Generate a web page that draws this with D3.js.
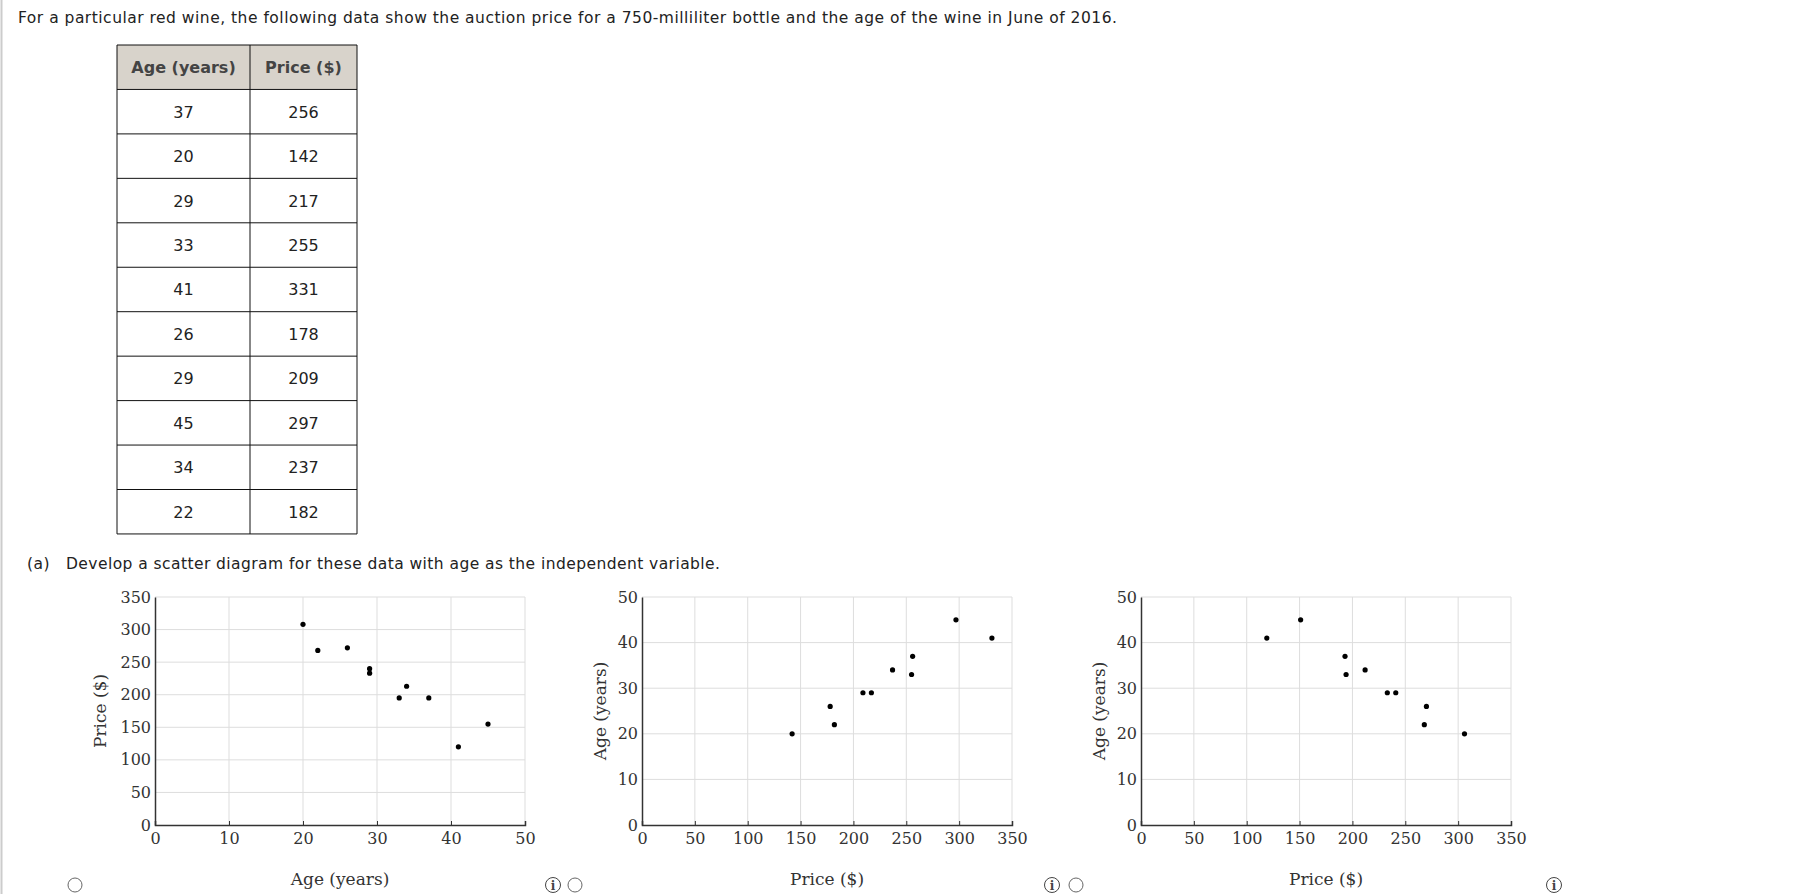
<!DOCTYPE html>
<html><head><meta charset="utf-8">
<script src="https://cdn.jsdelivr.net/npm/d3@7"></script>
<style>body{margin:0;background:#fff;}svg{display:block}</style></head>
<body><svg id="c" width="1801" height="894"></svg>
<script>
const tableAge = [37,20,29,33,41,26,29,45,34,22];
const tablePrice = [256,142,217,255,331,178,209,297,237,182];
const optA_age = [20,22,26,29,29,33,34,37,41,45];
const optA_price = [308,268,272,240,233,195,213,195,120,155];
const optB_price = [142,178,182,209,217,237,255,256,297,331];
const optB_age = [20,26,22,29,29,34,33,37,45,41];
const optC_price = [119,151,193,194,212,233,241,270,268,306];
const optC_age = [41,45,37,33,34,29,29,26,22,20];
const ageTicks = [0,10,20,30,40,50];
const priceTicks = [0,50,100,150,200,250,300,350];

const svg = d3.select("#c");
svg.append("line").attr("x1",1.5).attr("x2",1.5).attr("y1",0).attr("y2",894).attr("stroke","#ccc").attr("stroke-width",2);
const sans = "'DejaVu Sans', sans-serif";
svg.append("text").attr("x",18).attr("y",23).attr("font-family",sans).attr("font-size",15.5).attr("fill","#222")
  .attr("textLength",1099).attr("lengthAdjust","spacing")
  .text("For a particular red wine, the following data show the auction price for a 750-milliliter bottle and the age of the wine in June of 2016.");

// table
const tx=[117,250,357], rowY=d3.range(12).map(i=>45+i*44.45);
const tg=svg.append("g");
tg.append("rect").attr("x",tx[0]).attr("y",rowY[0]).attr("width",tx[2]-tx[0]).attr("height",rowY[1]-rowY[0]).attr("fill","#d8d3cb");
["Age (years)","Price ($)"].forEach((t,i)=>tg.append("text").attr("x",(tx[i]+tx[i+1])/2).attr("y",(rowY[0]+rowY[1])/2+6)
  .attr("text-anchor","middle").attr("font-family",sans).attr("font-weight","bold").attr("font-size",16).attr("fill","#444").text(t));
tableAge.forEach((a,i)=>{
  const y=(rowY[i+1]+rowY[i+2])/2+6;
  tg.append("text").attr("x",(tx[0]+tx[1])/2).attr("y",y).attr("text-anchor","middle").attr("font-family",sans).attr("font-size",16).attr("fill","#222").text(a);
  tg.append("text").attr("x",(tx[1]+tx[2])/2).attr("y",y).attr("text-anchor","middle").attr("font-family",sans).attr("font-size",16).attr("fill","#222").text(tablePrice[i]);
});
rowY.forEach(y=>tg.append("line").attr("x1",tx[0]).attr("x2",tx[2]).attr("y1",y).attr("y2",y).attr("stroke","#111"));
tx.forEach(x=>tg.append("line").attr("x1",x).attr("x2",x).attr("y1",rowY[0]).attr("y2",rowY[11]).attr("stroke","#111"));

svg.append("text").attr("x",27).attr("y",569).attr("font-family",sans).attr("font-size",15.5).attr("fill","#222")
  .attr("textLength",693).attr("lengthAdjust","spacing")
  .text("(a)\u00a0\u00a0 Develop a scatter diagram for these data with age as the independent variable.");

function plot(x0,xDom,xTicks,yDom,yTicks,xs,ys,xLab,yLab,labX){
  const W=370;
  const x=d3.scaleLinear().domain(xDom).range([x0,x0+W]);
  const y=d3.scaleLinear().domain(yDom).range([825,597]);
  const g=svg.append("g");
  xTicks.forEach(t=>{ if(t>0) g.append("line").attr("x1",x(t)).attr("x2",x(t)).attr("y1",825).attr("y2",597).attr("stroke","#ddd");});
  yTicks.forEach(t=>{ if(t>0) g.append("line").attr("x1",x0).attr("x2",x0+W).attr("y1",y(t)).attr("y2",y(t)).attr("stroke","#ddd");});
  const ff="'DejaVu Serif', serif";
  g.append("g").attr("transform","translate(0,825)").call(d3.axisBottom(x).tickValues(xTicks).tickSize(-4).tickPadding(8))
   .call(a=>{a.select(".domain").attr("stroke","#333").attr("stroke-width",1.5);a.selectAll("line").attr("stroke","#333");
     a.selectAll("text").attr("font-family",ff).attr("font-size",16).attr("fill","#333");});
  g.append("g").attr("transform",`translate(${x0},0)`).call(d3.axisLeft(y).tickValues(yTicks).tickSize(0).tickPadding(4))
   .call(a=>{a.select(".domain").attr("stroke","#333").attr("stroke-width",1.5);
     a.selectAll("text").attr("font-family",ff).attr("font-size",16).attr("fill","#333");});
  g.selectAll("circle").data(xs).join("circle").attr("cx",d=>x(d)).attr("cy",(d,i)=>y(ys[i])).attr("r",2.6).attr("fill","#000");
  g.append("text").attr("x",x0+W/2).attr("y",885).attr("text-anchor","middle").attr("font-family",ff).attr("font-size",17).attr("fill","#333").text(xLab);
  g.append("text").attr("transform",`translate(${labX},711) rotate(-90)`).attr("text-anchor","middle").attr("font-family",ff).attr("font-size",17).attr("fill","#333").text(yLab);
}
plot(155,[0,50],ageTicks,[0,350],priceTicks,optA_age,optA_price,"Age (years)","Price ($)",106);
plot(642,[0,350],priceTicks,[0,50],ageTicks,optB_price,optB_age,"Price ($)","Age (years)",606);
plot(1141,[0,350],priceTicks,[0,50],ageTicks,optC_price,optC_age,"Price ($)","Age (years)",1105);

[75,575,1076].forEach(cx=>svg.append("circle").attr("cx",cx).attr("cy",885).attr("r",7).attr("fill","#fff").attr("stroke","#666"));
[553,1052,1554].forEach(cx=>{svg.append("circle").attr("cx",cx).attr("cy",885).attr("r",7.5).attr("fill","#fff").attr("stroke","#444");
  svg.append("text").attr("x",cx).attr("y",890).attr("text-anchor","middle").attr("font-family","'DejaVu Serif',serif").attr("font-size",12).attr("font-weight","bold").attr("fill","#444").text("i");});
</script></body></html>
